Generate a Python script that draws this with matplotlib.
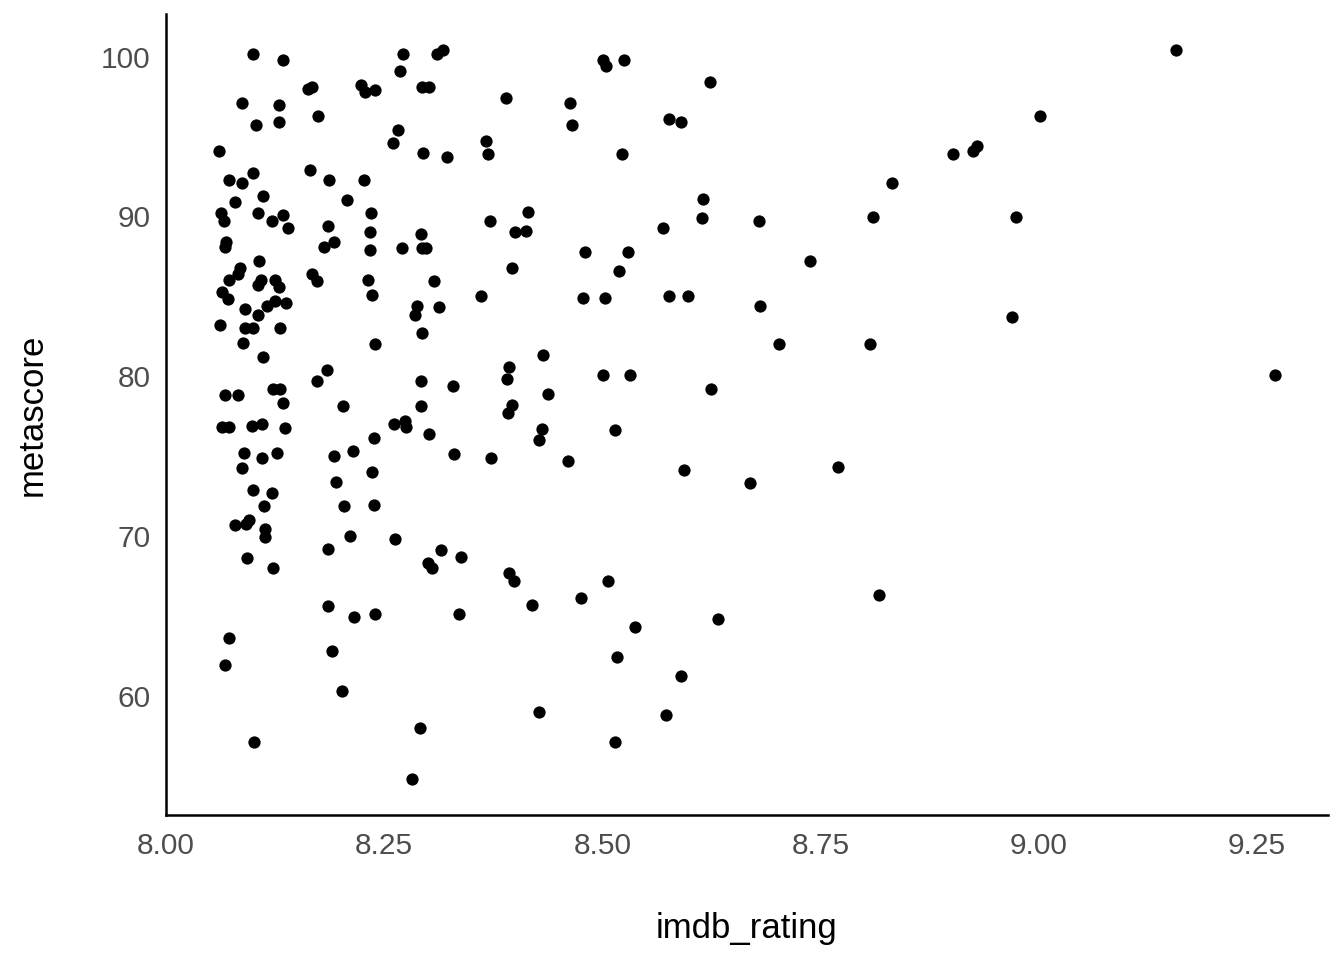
import numpy as np
import matplotlib
matplotlib.use("Agg")
import matplotlib.pyplot as plt

# jittered imdb_rating vs metascore
imdb_rating = [
    8.100, 8.134, 8.163, 8.167, 8.087, 8.129, 8.174, 8.103, 8.130, 8.061,
    8.072, 8.087, 8.100, 8.165, 8.187, 8.111, 8.079, 8.063, 8.066, 8.105,
    8.122, 8.134, 8.140, 8.186, 8.069, 8.181, 8.193, 8.068, 8.107, 8.085,
    8.082, 8.072, 8.064, 8.071, 8.105, 8.109, 8.125, 8.130, 8.090, 8.105,
    8.116, 8.125, 8.138, 8.167, 8.173, 8.062, 8.090, 8.100, 8.131, 8.088,
    8.111, 8.184, 8.173, 8.068, 8.083, 8.123, 8.131, 8.134, 8.064, 8.072,
    8.098, 8.110, 8.136, 8.089, 8.110, 8.127, 8.193, 8.087, 8.100, 8.122,
    8.112, 8.195, 8.079, 8.092, 8.095, 8.113, 8.114, 8.186, 8.093, 8.123,
    8.186, 8.072, 8.068, 8.190, 8.202, 8.101, 8.272, 8.311, 8.318, 8.268,
    8.224, 8.228, 8.239, 8.293, 8.301, 8.266, 8.260, 8.294, 8.322, 8.227,
    8.208, 8.235, 8.234, 8.292, 8.234, 8.270, 8.293, 8.298, 8.231, 8.236,
    8.307, 8.288, 8.285, 8.313, 8.293, 8.240, 8.292, 8.329, 8.203, 8.292,
    8.261, 8.274, 8.275, 8.301, 8.238, 8.214, 8.330, 8.236, 8.204, 8.238,
    8.211, 8.263, 8.315, 8.300, 8.305, 8.338, 8.216, 8.240, 8.336, 8.291,
    8.282, 8.501, 8.504, 8.525, 8.390, 8.463, 8.465, 8.577, 8.590, 8.367,
    8.369, 8.523, 8.371, 8.415, 8.400, 8.413, 8.570, 8.480, 8.530, 8.396,
    8.519, 8.361, 8.478, 8.503, 8.577, 8.598, 8.432, 8.393, 8.391, 8.501,
    8.532, 8.438, 8.396, 8.392, 8.431, 8.428, 8.515, 8.372, 8.461, 8.594,
    8.393, 8.399, 8.506, 8.420, 8.476, 8.537, 8.517, 8.590, 8.428, 8.573,
    8.515, 9.158, 8.623, 9.002, 8.929, 8.925, 8.902, 8.832, 8.615, 8.614,
    8.680, 8.810, 8.974, 8.738, 8.681, 8.969, 8.702, 8.807, 9.271, 8.625,
    8.770, 8.669, 8.817, 8.633,
]
metascore = [
    100.2, 99.8, 98.0, 98.1, 97.1, 97.0, 96.3, 95.7, 95.9, 94.1,
    92.3, 92.1, 92.75, 92.9, 92.3, 91.3, 90.9, 90.2, 89.7, 90.2,
    89.7, 90.1, 89.3, 89.4, 88.4, 88.1, 88.4, 88.1, 87.2, 86.8,
    86.4, 86.0, 85.3, 84.8, 85.7, 86.0, 86.0, 85.6, 84.2, 83.8,
    84.4, 84.7, 84.6, 86.4, 85.95, 83.2, 83.0, 83.0, 83.0, 82.1,
    81.2, 80.4, 79.7, 78.8, 78.8, 79.2, 79.2, 78.3, 76.8, 76.8,
    76.9, 77.0, 76.75, 75.2, 74.9, 75.2, 75.0, 74.25, 72.9, 72.7,
    71.9, 73.4, 70.7, 70.75, 71.0, 70.4, 69.9, 69.2, 68.6, 68.0,
    65.6, 63.6, 61.9, 62.8, 60.3, 57.1, 100.2, 100.2, 100.4, 99.1,
    98.2, 97.8, 97.9, 98.1, 98.1, 95.4, 94.6, 94.0, 93.7, 92.3,
    91.0, 90.2, 89.0, 88.9, 87.9, 88.0, 88.0, 88.0, 86.0, 85.1,
    85.95, 84.4, 83.8, 84.3, 82.7, 82.0, 79.7, 79.4, 78.1, 78.1,
    77.0, 77.2, 76.8, 76.4, 76.1, 75.3, 75.1, 74.0, 71.9, 71.95,
    70.0, 69.8, 69.1, 68.3, 68.0, 68.7, 64.9, 65.1, 65.1, 58.0,
    54.8, 99.8, 99.4, 99.8, 97.4, 97.1, 95.7, 96.1, 95.9, 94.75,
    93.9, 93.9, 89.7, 90.3, 89.0, 89.1, 89.3, 87.8, 87.8, 86.8,
    86.6, 85.0, 84.9, 84.9, 85.0, 85.0, 81.3, 80.6, 79.8, 80.1,
    80.1, 78.9, 78.2, 77.7, 76.7, 76.0, 76.6, 74.9, 74.7, 74.1,
    67.7, 67.2, 67.2, 65.7, 66.1, 64.3, 62.4, 61.2, 59.0, 58.8,
    57.1, 100.4, 98.4, 96.3, 94.4, 94.1, 93.9, 92.1, 91.1, 89.9,
    89.7, 89.95, 89.95, 87.2, 84.4, 83.7, 82.0, 82.0, 80.1, 79.2,
    74.3, 73.3, 66.3, 64.8,
]
x_ticks = [8.00, 8.25, 8.50, 8.75, 9.00, 9.25]
y_ticks = [60, 70, 80, 90, 100]

plt.rcParams['font.family'] = ['Liberation Sans', 'DejaVu Sans']

fig = plt.figure(figsize=(13.44, 9.6), dpi=100)
ax = fig.add_axes([0.1235, 0.151, 0.8645, 0.8345])

ax.scatter(imdb_rating, metascore, s=78, color='black', linewidths=0)

# ggplot-style 5% expansion of the data range
x = np.array(imdb_rating)
y = np.array(metascore)
xr = x.max() - x.min()
yr = y.max() - y.min()
ax.set_xlim(x.min() - 0.05*xr, x.max() + 0.05*xr)
ax.set_ylim(y.min() - 0.05*yr, y.max() + 0.05*yr)

ax.set_xticks(x_ticks)
ax.set_xticklabels(['%.2f' % t for t in x_ticks])
ax.set_yticks(y_ticks)
ax.tick_params(axis='both', length=0, labelsize=21.5, labelcolor='#4D4D4D')
ax.tick_params(axis='x', pad=12)
ax.tick_params(axis='y', pad=11)

for side in ['top', 'right']:
    ax.spines[side].set_visible(False)
for side in ['left', 'bottom']:
    ax.spines[side].set_linewidth(1.8)
    ax.spines[side].set_color('black')

ax.set_xlabel('imdb_rating', fontsize=25, labelpad=38)
ax.set_ylabel('metascore', fontsize=25, labelpad=38)

fig.savefig('out.png', dpi=100, facecolor='white')
